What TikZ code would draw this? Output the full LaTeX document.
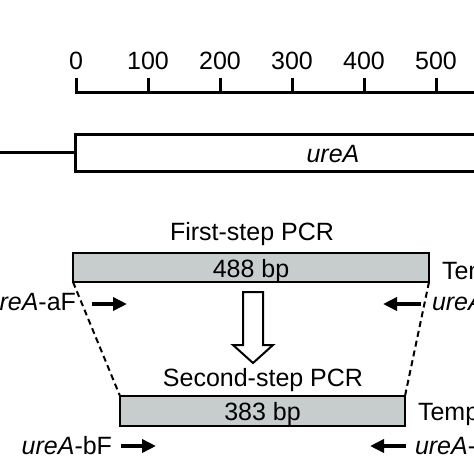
\documentclass[tikz,border=0pt]{standalone}
\usepackage{fontspec}
\setmainfont{Liberation Sans}
\usetikzlibrary{arrows.meta,positioning}

\definecolor{ampgray}{RGB}{199,204,204}

\begin{document}
\begin{tikzpicture}[
    x=1pt, y=-1pt,
    every node/.style={
        font=\fontsize{25}{30}\selectfont,
        inner sep=0pt, outer sep=0pt,
    },
    label text/.style={anchor=base},
    gene box/.style={
        draw, line width=3pt, fill=white,
        anchor=north west, minimum height=37pt,
    },
    amp box/.style={
        draw, line width=2pt, fill=ampgray,
        anchor=north west,
    },
    primer/.style={
        line width=4pt,
        -{Triangle[length=14pt,width=13pt]},
    },
    trace/.style={
        line width=2pt, dash pattern=on 6pt off 4pt,
    },
    ]
    \useasboundingbox (0,0) rectangle (474,474);
    \clip (0,0) rectangle (474,474);
    % scale bar
    \draw [line width=3pt] (76,92) -- (500,92);
    \foreach \n in {0,...,5}
    {
        \pgfmathtruncatemacro\bp{100*\n}
        \draw [line width=3pt] (76+72*\n,93.5) -- ++(0,-15.5);
        \node [label text] (tick\n) at (76+72*\n,69) {\bp};
    }
    % gene
    \node [gene box, minimum width=440pt] (gene) at (75,134) {};
    \node [label text] (genename) at (333,162) {\itshape ureA};
    \draw [line width=2.5pt] (gene.west) -- ++(-90,0);
    % first-step PCR
    \node [amp box, minimum width=356pt, minimum height=29pt] (first) at (73,253) {};
    \node [label text] at (first.center |- 0,277) {488 bp};
    \node [label text] (firstlabel) at (252,240) {First-step PCR};
    \node [label text, anchor=base west] (firsttemp) at (442,279) {Template};
    \node [label text, anchor=base east] (aF) at (76,310) {\itshape ureA\upshape-aF};
    \node [label text, anchor=base west] (aR) at (432,310) {\itshape ureA\upshape-aR};
    \coordinate (aFtail) at (92,304);
    \coordinate (aRtail) at (421,304);
    \draw [primer] (aFtail) -- ++(35,0);
    \draw [primer] (aRtail) -- ++(-38,0);
    % second-step PCR
    \node [amp box, minimum width=285pt, minimum height=30pt] (second) at (120,396) {};
    \node [label text] at (second.center |- 0,420) {383 bp};
    \node [label text] (secondlabel) at (263,386) {Second-step PCR};
    \node [label text, anchor=base west] (secondtemp) at (418,420) {Template};
    \node [label text, anchor=base east] (bF) at (112,454) {\itshape ureA\upshape-bF};
    \node [label text, anchor=base west] (bR) at (415,454) {\itshape ureA\upshape-bR};
    \coordinate (bFtail) at (121,446);
    \coordinate (bRtail) at (406,446);
    \draw [primer] (bFtail) -- ++(35,0);
    \draw [primer] (bRtail) -- ++(-36,0);
    % nested region
    \draw [trace] (first.south west) -- (second.north west);
    \draw [trace] (first.south east) -- (second.north east);
    \draw [line width=2pt, fill=white]
        (243,292) -- (263,292) -- (263,345) -- (273,345) -- (253,363)
        -- (233,345) -- (243,345) -- cycle;
\end{tikzpicture}
\end{document}
